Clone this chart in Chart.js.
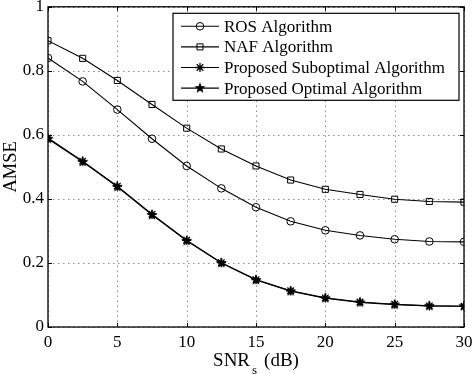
<!DOCTYPE html>
<html>
<head>
    <title>AMSE vs SNR</title>
    <script src="https://cdn.jsdelivr.net/npm/chart.js"></script>
    <style>
        html, body {
            margin: 0;
            padding: 0;
            background: #fff;
        }
        #wrap {
            width: 474px;
            height: 374px;
        }
    </style>
</head>
<body>
    <div id="wrap"><canvas id="amseChart" width="474" height="374"></canvas></div>

    <script>
        // values
        const snrLabels = [0, 2.5, 5, 7.5, 10, 12.5, 15, 17.5, 20, 22.5, 25, 27.5, 30];
        const rosValues = [0.840, 0.767, 0.679, 0.588, 0.503, 0.433, 0.374, 0.330, 0.302, 0.286, 0.274, 0.267, 0.266];
        const nafValues = [0.894, 0.839, 0.770, 0.695, 0.621, 0.556, 0.503, 0.459, 0.430, 0.414, 0.399, 0.392, 0.390];
        const subValues = [0.590, 0.518, 0.440, 0.352, 0.271, 0.201, 0.148, 0.113, 0.091, 0.078, 0.071, 0.066, 0.065];
        const optValues = [0.588, 0.516, 0.438, 0.350, 0.269, 0.200, 0.147, 0.112, 0.090, 0.077, 0.070, 0.066, 0.065];
        const seriesNames = ['ROS Algorithm', 'NAF Algorithm', 'Proposed Suboptimal Algorithm', 'Proposed Optimal Algorithm'];
        const xTicks = [0, 5, 10, 15, 20, 25, 30];
        const yTicks = [0, 0.2, 0.4, 0.6, 0.8, 1];

        const FONT = "'Liberation Serif', 'Times New Roman', serif";

        // filled five point star (matlab 'p' marker)
        function makePentagram(r) {
            const c = document.createElement('canvas');
            const size = Math.ceil(r * 2 + 2);
            c.width = size;
            c.height = size;
            const g = c.getContext('2d');
            const cx = size / 2, cy = size / 2;
            g.beginPath();
            for (let i = 0; i < 10; i++) {
                const rad = i % 2 === 0 ? r : r * 0.42;
                const a = -Math.PI / 2 + i * Math.PI / 5;
                const px = cx + rad * Math.cos(a);
                const py = cy + rad * Math.sin(a);
                if (i === 0) g.moveTo(px, py); else g.lineTo(px, py);
            }
            g.closePath();
            g.fillStyle = '#000';
            g.fill();
            return c;
        }
        const pentagram = makePentagram(5.8);

        function toPoints(vals) {
            return vals.map((v, i) => ({ x: snrLabels[i], y: v }));
        }

        function lineSet(label, vals, style, radius) {
            return {
                label: label,
                data: toPoints(vals),
                borderColor: '#000',
                backgroundColor: 'rgba(0,0,0,0)',
                borderWidth: 1.1,
                pointStyle: style,
                pointRadius: radius,
                pointBorderColor: '#000',
                pointBackgroundColor: 'rgba(0,0,0,0)',
                pointBorderWidth: 1,
                tension: 0
            };
        }

        const datasets = [
            lineSet(seriesNames[0], rosValues, 'circle', 3.8),
            lineSet(seriesNames[1], nafValues, 'rect', 4.3),
            lineSet(seriesNames[2], subValues, 'star', 4.6),
            lineSet(seriesNames[3], optValues, pentagram, 5.8)
        ];
        datasets[2].pointBorderWidth = 1.3;

        // dotted grid drawn from the scales
        const dottedGrid = {
            id: 'dottedGrid',
            beforeDatasetsDraw(chart) {
                const ctx = chart.ctx;
                const a = chart.chartArea;
                const xs = chart.scales.x, ys = chart.scales.y;
                ctx.save();
                ctx.strokeStyle = '#8c8c8c';
                ctx.lineWidth = 1;
                ctx.setLineDash([1.5, 3.5]);
                ctx.beginPath();
                xTicks.forEach(t => {
                    const px = Math.round(xs.getPixelForValue(t)) + 0.5;
                    ctx.moveTo(px, a.bottom); ctx.lineTo(px, a.top);
                });
                yTicks.forEach(t => {
                    const py = Math.round(ys.getPixelForValue(t)) + 0.5;
                    ctx.moveTo(a.left, py); ctx.lineTo(a.right, py);
                });
                ctx.stroke();
                ctx.restore();
            }
        };

        // frame, inward ticks, legend box and x title
        const matlabLook = {
            id: 'matlabLook',
            afterDatasetsDraw(chart) {
                const ctx = chart.ctx;
                const a = chart.chartArea;
                const xs = chart.scales.x, ys = chart.scales.y;
                ctx.save();
                ctx.strokeStyle = '#000';
                ctx.lineWidth = 1.3;
                ctx.strokeRect(a.left, a.top, a.right - a.left, a.bottom - a.top);

                ctx.lineWidth = 1;
                ctx.beginPath();
                xTicks.forEach(t => {
                    const px = Math.round(xs.getPixelForValue(t)) + 0.5;
                    ctx.moveTo(px, a.bottom); ctx.lineTo(px, a.bottom - 4);
                    ctx.moveTo(px, a.top); ctx.lineTo(px, a.top + 4);
                });
                yTicks.forEach(t => {
                    const py = Math.round(ys.getPixelForValue(t)) + 0.5;
                    ctx.moveTo(a.left, py); ctx.lineTo(a.left + 4, py);
                    ctx.moveTo(a.right, py); ctx.lineTo(a.right - 4, py);
                });
                ctx.stroke();

                // legend
                const bx = a.right - 291, by = a.top + 6.5, bw = 286, bh = 87;
                ctx.fillStyle = '#fff';
                ctx.fillRect(bx, by, bw, bh);
                ctx.lineWidth = 1.2;
                ctx.strokeRect(bx, by, bw, bh);
                ctx.font = '17px ' + FONT;
                ctx.textBaseline = 'middle';
                ctx.textAlign = 'left';
                chart.data.datasets.forEach((ds, i) => {
                    const ry = by + 13 + i * 20.6;
                    ctx.strokeStyle = '#000';
                    ctx.lineWidth = 1.1;
                    ctx.beginPath();
                    ctx.moveTo(bx + 8, ry);
                    ctx.lineTo(bx + 46, ry);
                    ctx.stroke();
                    ctx.fillStyle = 'rgba(0,0,0,0)';
                    ctx.lineWidth = ds.pointBorderWidth;
                    Chart.helpers.drawPoint(ctx, {
                        pointStyle: ds.pointStyle,
                        radius: ds.pointRadius,
                        rotation: 0,
                        borderWidth: ds.pointBorderWidth
                    }, bx + 27, ry);
                    ctx.fillStyle = '#000';
                    ctx.fillText(ds.label, bx + 51, ry + 1);
                });

                // x title with subscript
                ctx.fillStyle = '#000';
                ctx.textBaseline = 'alphabetic';
                ctx.font = '19px ' + FONT;
                const w1 = ctx.measureText('SNR').width;
                ctx.font = '13px ' + FONT;
                const w2 = ctx.measureText('s').width + 4;
                ctx.font = '19px ' + FONT;
                const w3 = ctx.measureText('(dB)').width;
                const gap = 5;
                let tx = (a.left + a.right) / 2 - (w1 + w2 + gap + w3) / 2;
                const base = a.bottom + 39;
                ctx.fillText('SNR', tx, base);
                ctx.font = '13px ' + FONT;
                ctx.fillText('s', tx + w1 + 2, base + 8);
                ctx.font = '19px ' + FONT;
                ctx.fillText('(dB)', tx + w1 + w2 + gap, base);
                ctx.restore();
            }
        };

        new Chart(document.getElementById('amseChart'), {
            type: 'line',
            data: { datasets: datasets },
            plugins: [dottedGrid, matlabLook],
            options: {
                responsive: false,
                animation: false,
                layout: { padding: { top: 5, right: 10, left: 0, bottom: 0 } },
                plugins: {
                    legend: { display: false },
                    tooltip: { enabled: false }
                },
                scales: {
                    x: {
                        type: 'linear',
                        min: 0,
                        max: 30,
                        afterBuildTicks: s => { s.ticks = xTicks.map(v => ({ value: v })); },
                        afterFit: s => { s.height = 47; s.paddingLeft = 0; s.paddingRight = 0; },
                        grid: { drawOnChartArea: false, drawTicks: false },
                        border: { display: false },
                        ticks: {
                            color: '#000',
                            padding: 5,
                            maxRotation: 0,
                            font: { family: FONT, size: 17 }
                        }
                    },
                    y: {
                        min: 0,
                        max: 1,
                        afterBuildTicks: s => { s.ticks = yTicks.map(v => ({ value: v })); },
                        afterFit: s => { s.width = 48; s.paddingTop = 0; s.paddingBottom = 0; },
                        grid: { drawOnChartArea: false, drawTicks: false },
                        border: { display: false },
                        title: {
                            display: true,
                            text: 'AMSE',
                            color: '#000',
                            padding: 0,
                            font: { family: FONT, size: 18.5 }
                        },
                        ticks: {
                            color: '#000',
                            padding: 4,
                            font: { family: FONT, size: 17 },
                            callback: v => String(v)
                        }
                    }
                }
            }
        });
    </script>
</body>
</html>
